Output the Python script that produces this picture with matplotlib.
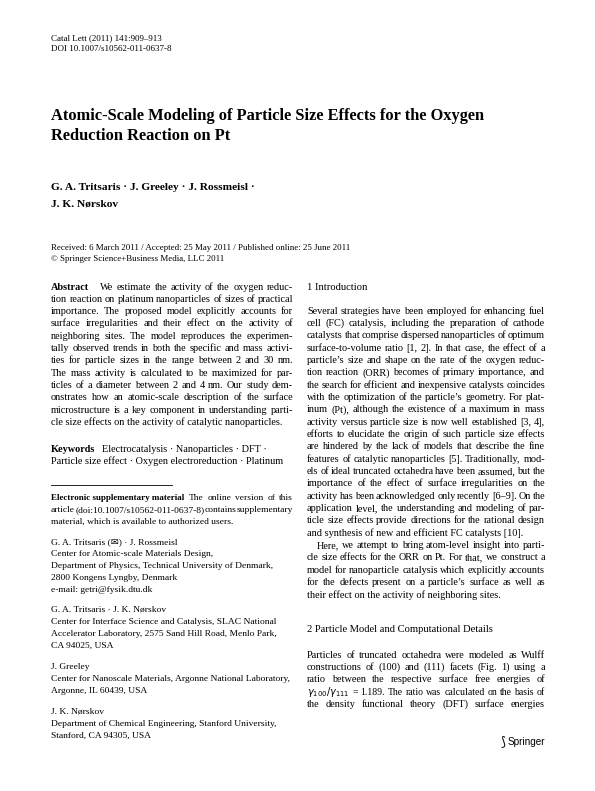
import matplotlib
matplotlib.use("Agg")
import matplotlib.pyplot as plt

W, H = 595, 791
fig = plt.figure(figsize=(W/100, H/100), dpi=100)
FAM = ['Liberation Serif', 'DejaVu Sans']
R = fig.canvas.get_renderer()

def T(x, y, s, size=7.35, weight='normal', ha='left', fam=FAM):
    return fig.text(x/W, 1 - y/H, s, fontsize=size, fontweight=weight, family=fam,
                    va='center', ha=ha)

def J(x0, x1, y, s, size=7.35, weight='normal', just=True):
    words = s.split(' ')
    lead = 0
    if s.startswith('    '):
        words = s.strip().split(' ')
        lead = 10
    if not just or len(words) == 1:
        T(x0 + lead, y, ' '.join(words), size, weight)
        return
    txts = [T(0, y, w, size, weight) for w in words]
    ws = [t.get_window_extent(R).width for t in txts]
    gap = (x1 - x0 - lead - sum(ws)) / (len(words) - 1)
    x = x0 + lead
    for t, w in zip(txts, ws):
        t.set_x(x / W)
        x += w + gap

header = ["Catal Lett (2011) 141:909–913", "DOI 10.1007/s10562-011-0637-8"]
title = ["Atomic-Scale Modeling of Particle Size Effects for the Oxygen",
         "Reduction Reaction on Pt"]
authors = ["G. A. Tritsaris · J. Greeley · J. Rossmeisl ·", "J. K. Nørskov"]
received = ["Received: 6 March 2011 / Accepted: 25 May 2011 / Published online: 25 June 2011",
            "© Springer Science+Business Media, LLC 2011"]
abstract_first = "We estimate the activity of the oxygen reduc-"
abstract = [
    "tion reaction on platinum nanoparticles of sizes of practical",
    "importance. The proposed model explicitly accounts for",
    "surface irregularities and their effect on the activity of",
    "neighboring sites. The model reproduces the experimen-",
    "tally observed trends in both the specific and mass activi-",
    "ties for particle sizes in the range between 2 and 30 nm.",
    "The mass activity is calculated to be maximized for par-",
    "ticles of a diameter between 2 and 4 nm. Our study dem-",
    "onstrates how an atomic-scale description of the surface",
    "microstructure is a key component in understanding parti-",
    "cle size effects on the activity of catalytic nanoparticles."]
esm = ["article (doi:10.1007/s10562-011-0637-8) contains supplementary",
       "material, which is available to authorized users."]
affil = [
    (542, ["G. A. Tritsaris (✉) · J. Rossmeisl",
           "Center for Atomic-scale Materials Design,",
           "Department of Physics, Technical University of Denmark,",
           "2800 Kongens Lyngby, Denmark",
           "e-mail: getri@fysik.dtu.dk"]),
    (610, ["G. A. Tritsaris · J. K. Nørskov",
           "Center for Interface Science and Catalysis, SLAC National",
           "Accelerator Laboratory, 2575 Sand Hill Road, Menlo Park,",
           "CA 94025, USA"]),
    (667, ["J. Greeley",
           "Center for Nanoscale Materials, Argonne National Laboratory,",
           "Argonne, IL 60439, USA"]),
    (712, ["J. K. Nørskov",
           "Department of Chemical Engineering, Stanford University,",
           "Stanford, CA 94305, USA"]),
]
intro = [
    "Several strategies have been employed for enhancing fuel",
    "cell (FC) catalysis, including the preparation of cathode",
    "catalysts that comprise dispersed nanoparticles of optimum",
    "surface-to-volume ratio [1, 2]. In that case, the effect of a",
    "particle’s size and shape on the rate of the oxygen reduc-",
    "tion reaction (ORR) becomes of primary importance, and",
    "the search for efficient and inexpensive catalysts coincides",
    "with the optimization of the particle’s geometry. For plat-",
    "inum (Pt), although the existence of a maximum in mass",
    "activity versus particle size is now well established [3, 4],",
    "efforts to elucidate the origin of such particle size effects",
    "are hindered by the lack of models that describe the fine",
    "features of catalytic nanoparticles [5]. Traditionally, mod-",
    "els of ideal truncated octahedra have been assumed, but the",
    "importance of the effect of surface irregularities on the",
    "activity has been acknowledged only recently [6–9]. On the",
    "application level, the understanding and modeling of par-",
    "ticle size effects provide directions for the rational design",
    "and synthesis of new and efficient FC catalysts [10].",
    "    Here, we attempt to bring atom-level insight into parti-",
    "cle size effects for the ORR on Pt. For that, we construct a",
    "model for nanoparticle catalysis which explicitly accounts",
    "for the defects present on a particle’s surface as well as",
    "their effect on the activity of neighboring sites."]
intro_last = {18, 23}
sec2 = [
    "Particles of truncated octahedra were modeled as Wulff",
    "constructions of (100) and (111) facets (Fig. 1) using a",
    "ratio between the respective surface free energies of",
    "$\\gamma_{100}/\\gamma_{111}$ = 1.189. The ratio was calculated on the basis of",
    "the density functional theory (DFT) surface energies"]

LS = 12.35
L0, L1, R0, R1 = 51, 293, 307, 545
for i, s in enumerate(header):
    T(51, 38 + 11*i, s, size=6.5)
for i, s in enumerate(title):
    T(51, 116 + 20*i, s, size=11.8, weight='bold')
for i, s in enumerate(authors):
    T(51, 187 + 17*i, s, size=8.2, weight='bold')
for i, s in enumerate(received):
    T(51, 248 + 11*i, s, size=6.4)

T(51, 287, "Abstract", weight='bold')
J(100, L1, 287, abstract_first)
for i, s in enumerate(abstract):
    J(L0, L1, 299 + LS*i, s, just=(i < len(abstract) - 1))
T(51, 449, "Keywords", weight='bold')
T(102, 449, "Electrocatalysis · Nanoparticles · DFT ·")
T(51, 461, "Particle size effect · Oxygen electroreduction · Platinum")

fig.add_artist(plt.Line2D([51/W, 172/W], [1-485/H, 1-485/H], lw=0.6, color='black'))
b = T(51, 498, "Electronic supplementary material", size=6.5, weight='bold')
bx = 51 + b.get_window_extent(R).width + 5
J(bx, L1, 498, "The online version of this", size=6.8)
for i, s in enumerate(esm):
    J(L0, L1, 510 + 12*i, s, size=6.8, just=(i == 0))
for y0, lines in affil:
    for i, s in enumerate(lines):
        T(51, y0 + 12*i, s, size=6.8)

T(307, 287, "1 Introduction", size=7.6)
for i, s in enumerate(intro):
    J(R0, R1, 311 + LS*i, s, just=(i not in intro_last))
T(307, 630, "2 Particle Model and Computational Details", size=7.6)
for i, s in enumerate(sec2):
    J(R0, R1, 655 + LS*i, s, size=(7.0 if i == 3 else 7.35))

fig.text(545/W, 1-742/H, "Springer", fontsize=7.2, family=['Liberation Sans'], ha='right', va='center')
fig.text(505/W, 1-742/H, "⟆", fontsize=9, family=['DejaVu Sans'], ha='right', va='center')

fig.savefig("out.png", dpi=100)
